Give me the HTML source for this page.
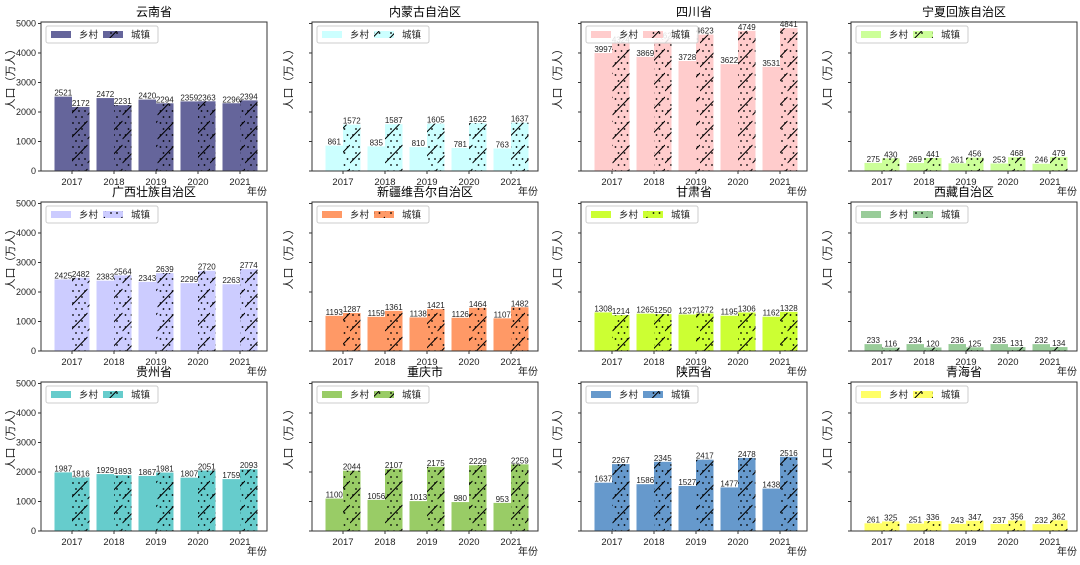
<!DOCTYPE html>
<html><head><meta charset="utf-8">
<style>
body{margin:0;background:#fff;}
svg{display:block;font-family:"Liberation Sans","Noto Sans CJK SC",sans-serif;}
</style></head>
<body>
<svg id="chart" width="1080" height="565" viewBox="0 0 1080 565" xmlns="http://www.w3.org/2000/svg">
<defs>
<pattern id="hatch" patternUnits="userSpaceOnUse" width="17.5" height="24" x="0" y="0">
<circle cx="3" cy="3" r="0.9" fill="#000"/><circle cx="9" cy="3" r="0.9" fill="#000"/><circle cx="15" cy="3" r="0.9" fill="#000"/>
<circle cx="6" cy="9" r="0.9" fill="#000"/><circle cx="12" cy="9" r="0.9" fill="#000"/>
<circle cx="3" cy="15" r="0.9" fill="#000"/><circle cx="9" cy="15" r="0.9" fill="#000"/><circle cx="15" cy="15" r="0.9" fill="#000"/>
<circle cx="6" cy="21" r="0.9" fill="#000"/><circle cx="12" cy="21" r="0.9" fill="#000"/>
<line x1="0" y1="19" x2="17.5" y2="1" stroke="#000" stroke-width="1"/>
</pattern>
</defs>
</svg>
<script>
const years = ['2017','2018','2019','2020','2021'];
const regions = ['云南省','内蒙古自治区','四川省','宁夏回族自治区','广西壮族自治区','新疆维吾尔自治区','甘肃省','西藏自治区','贵州省','重庆市','陕西省','青海省'];
const colors = ['#65659b','#ccffff','#ffcccc','#ccff99','#ccccff','#ff9966','#ccff33','#99cc99','#66cccc','#99cc66','#6699cc','#ffff66'];
const rural = [
 [2521,2472,2420,2359,2296],[861,835,810,781,763],[3997,3869,3728,3622,3531],[275,269,261,253,246],
 [2425,2383,2343,2299,2263],[1193,1159,1138,1126,1107],[1308,1265,1237,1195,1162],[233,234,236,235,232],
 [1987,1929,1867,1807,1759],[1100,1056,1013,980,953],[1637,1586,1527,1477,1438],[261,251,243,237,232]];
const urban = [
 [2172,2231,2294,2363,2394],[1572,1587,1605,1622,1637],[4324,4462,4623,4749,4841],[430,441,456,468,479],
 [2482,2564,2639,2720,2774],[1287,1361,1421,1464,1482],[1214,1250,1272,1306,1328],[116,120,125,131,134],
 [1816,1893,1981,2051,2093],[2044,2107,2175,2229,2259],[2267,2345,2417,2478,2516],[325,336,347,356,362]];
const yTicks = [0,1000,2000,3000,4000,5000];

const svg = document.getElementById('chart');
const NS = 'http://www.w3.org/2000/svg';
function mk(tag, attrs, parent){const e=document.createElementNS(NS,tag);for(const k in attrs)e.setAttribute(k,attrs[k]);(parent||svg).appendChild(e);return e;}
const colX=[41,312,581,851], rowY=[22,202,382], W=226, H=149, YMAX=5050;
regions.forEach((name,i)=>{
  const L=colX[i%4], T=rowY[Math.floor(i/4)], B=T+H;
  const g=mk('g',{});
  
  
  const xs=k=>L+31+k*42;
  const ys=v=>B-v/YMAX*H;
  const t=mk('text',{x:L+W/2,y:T-6,'text-anchor':'middle','font-size':'12'},g);t.textContent=name;
  
  years.forEach((yr,k)=>{
    const c=xs(k);
    const r=mk('rect',{x:c-17.5,y:ys(rural[i][k]),width:17.5,height:B-ys(rural[i][k]),fill:colors[i]},g);
    
    const u=mk('rect',{x:c,y:ys(urban[i][k]),width:17.5,height:B-ys(urban[i][k]),fill:colors[i]},g);
    
    mk('rect',{x:c,y:ys(urban[i][k]),width:17.5,height:B-ys(urban[i][k]),fill:'url(#hatch)'},g);
    const a=mk('text',{x:c-8.75,y:ys(rural[i][k])-1,'text-anchor':'middle','font-size':'8',fill:'#222'},g);a.textContent=rural[i][k];
    
    const b=mk('text',{x:c+8.75,y:ys(urban[i][k])-1,'text-anchor':'middle','font-size':'8',fill:'#222'},g);b.textContent=urban[i][k];
    
    mk('line',{x1:c,y1:B,x2:c,y2:B+3,stroke:'#333'},g);
    const tl=mk('text',{x:c,y:B+14,'text-anchor':'middle','font-size':'9.5',fill:'#222'},g);tl.textContent=yr;
    
  });
  yTicks.forEach(v=>{
    mk('line',{x1:L-3,y1:ys(v),x2:L,y2:ys(v),stroke:'#333'},g);
    if(i%4===0){const tl=mk('text',{x:L-5,y:ys(v)+3,'text-anchor':'end','font-size':'9',fill:'#222'},g);tl.textContent=v;
      }
  });
  mk('rect',{x:L,y:T,width:W,height:H,fill:'none',stroke:'#333','stroke-width':'1'},g);
  const yl=mk('text',{transform:`translate(${i%4===0?14:L-20},${T+H/2-20}) rotate(-90)`,'text-anchor':'middle','font-size':'11',fill:'#222'},g);yl.textContent='人口（万人）';
  
  const xl=mk('text',{x:L+W-10,y:B+24,'text-anchor':'middle','font-size':'10',fill:'#222'},g);xl.textContent='年份';
  
  const lg=mk('g',{},g);
  
  mk('rect',{x:L+5,y:T+4,width:112,height:17,fill:'#fff','fill-opacity':'0.85',stroke:'#ccc',rx:2},lg);
  mk('rect',{x:L+10,y:T+9,width:20,height:7,fill:colors[i]},lg);
  const l1=mk('text',{x:L+38,y:T+16,'font-size':'9.5',fill:'#222'},lg);l1.textContent='乡村';
  mk('rect',{x:L+62,y:T+9,width:20,height:7,fill:colors[i]},lg);
  mk('rect',{x:L+62,y:T+9,width:20,height:7,fill:'url(#hatch)'},lg);
  const l2=mk('text',{x:L+90,y:T+16,'font-size':'9.5',fill:'#222'},lg);l2.textContent='城镇';
});
</script>
</body></html>
